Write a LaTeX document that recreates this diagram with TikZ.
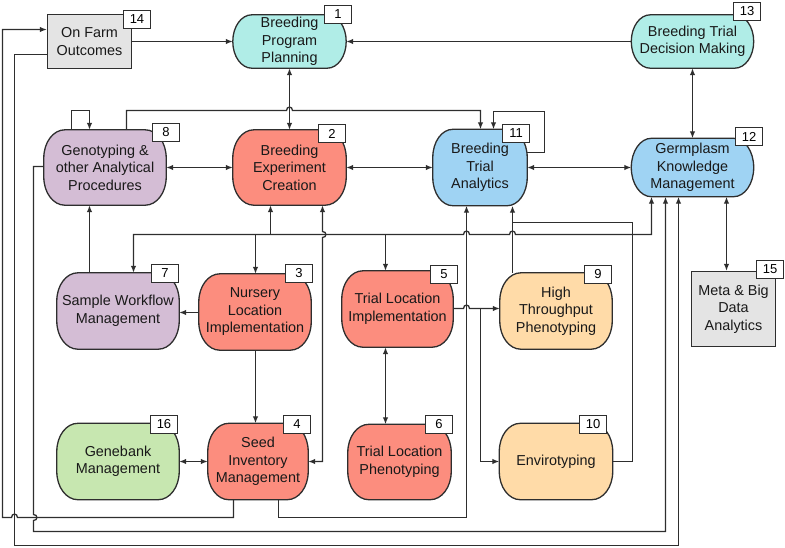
\documentclass[tikz,border=0pt]{standalone}
\usepackage{fontspec}
\setmainfont{Liberation Sans}
\usetikzlibrary{arrows.meta,calc,backgrounds}
\definecolor{lc}{HTML}{2E2E2E}
\definecolor{cTeal}{HTML}{B0EDE7}
\definecolor{cSalmon}{HTML}{FC8D7E}
\definecolor{cLilac}{HTML}{D4BDD5}
\definecolor{cBlue}{HTML}{9FD3F3}
\definecolor{cPeach}{HTML}{FFDBA8}
\definecolor{cGreen}{HTML}{C7E7B0}
\definecolor{cGray}{HTML}{E4E4E4}
\tikzset{
  procn/.style={inner sep=0pt, align=center, font=\fontsize{14.4}{17.5}\selectfont, text=black!90},
  sqbox/.style={procn, draw=lc, line width=1.3pt, fill=cGray},
  numbox/.style={draw=lc, line width=1.3pt, fill=white, minimum width=27pt, minimum height=18pt, inner sep=0pt, font=\fontsize{13}{13}\selectfont},
  conn/.style={draw=lc, line width=1.3pt},
  oneway/.style={-{Latex[length=7pt,width=5.5pt]}},
  twoway/.style={{Latex[length=7pt,width=5.5pt]}-{Latex[length=7pt,width=5.5pt]}},
}
\newcommand\rshape[4]{%
  \pgfmathsetmacro\rsA{0.448*#3}\pgfmathsetmacro\rsB{0.448*#4}%
  \path[draw=lc, line width=1.3pt, fill=#2]
   ($(#1.north west)+(#3,0)$) -- ($(#1.north east)+(-#3,0)$)
   .. controls ($(#1.north east)+(-\rsA,0)$) and ($(#1.north east)+(0,\rsB)$) .. ($(#1.north east)+(0,#4)$)
   -- ($(#1.south east)+(0,-#4)$)
   .. controls ($(#1.south east)+(0,-\rsB)$) and ($(#1.south east)+(-\rsA,0)$) .. ($(#1.south east)+(-#3,0)$)
   -- ($(#1.south west)+(#3,0)$)
   .. controls ($(#1.south west)+(\rsA,0)$) and ($(#1.south west)+(0,-\rsB)$) .. ($(#1.south west)+(0,-#4)$)
   -- ($(#1.north west)+(0,#4)$)
   .. controls ($(#1.north west)+(0,\rsB)$) and ($(#1.north west)+(\rsA,0)$) .. ($(#1.north west)+(#3,0)$) -- cycle;
}
\begin{document}
\begin{tikzpicture}[x=1pt,y=-1pt]
\useasboundingbox (0,0) rectangle (785,547);
% column / row helper coordinates (lines sit on pixel centres)
\foreach \c in {2,14,33,71,89,126,133,233,255,270,278,322,385,466,480,493,512,544,632,651,665,678,726}
  {\coordinate (x\c) at (\c+0.5,0);}
\foreach \r in {29,54,110,111,152,166,222,234,308,312,461,517,531,545}
  {\coordinate (y\r) at (0,\r+0.5);}

% nodes
\node[sqbox, minimum width=84pt, minimum height=54pt] (n14) at (89.5,41.5) {On Farm\\Outcomes};
\node[procn, minimum width=113pt, minimum height=53pt] (n1) at (289.5,41.5) {Breeding\\Program\\Planning};
\node[procn, minimum width=122pt, minimum height=53pt] (n13) at (692.5,41.5) {Breeding Trial\\Decision Making};
\node[procn, minimum width=122pt, minimum height=75pt] (n8) at (105,167.5) {Genotyping \&\\other Analytical\\Procedures};
\node[procn, minimum width=113pt, minimum height=75pt] (n2) at (289.5,167.5) {Breeding\\Experiment\\Creation};
\node[procn, minimum width=94pt, minimum height=76pt] (n11) at (480,167.5) {Breeding\\Trial\\Analytics};
\node[procn, minimum width=122pt, minimum height=58pt] (n12) at (692.5,167.5) {Germplasm\\Knowledge\\Management};
\node[procn, minimum width=122pt, minimum height=76pt] (n7) at (118,311) {Sample Workflow\\Management};
\node[procn, minimum width=112pt, minimum height=76pt] (n3) at (255,312) {Nursery\\Location\\Implementation};
\node[procn, minimum width=111pt, minimum height=76pt] (n5) at (397.5,309) {Trial Location\\Implementation};
\node[procn, minimum width=112pt, minimum height=76pt] (n9) at (556,311) {High\\Throughput\\Phenotyping};
\node[sqbox, minimum width=84pt, minimum height=75pt] (n15) at (733.5,309) {Meta \& Big\\Data\\Analytics};
\node[procn, minimum width=122pt, minimum height=76pt] (n16) at (118,461.5) {Genebank\\Management};
\node[procn, minimum width=100pt, minimum height=76pt] (n4) at (258,461.5) {Seed\\Inventory\\Management};
\node[procn, minimum width=103pt, minimum height=75pt] (n6) at (399.5,462) {Trial Location\\Phenotyping};
\node[procn, minimum width=113pt, minimum height=76pt] (n10) at (556,461.5) {Envirotyping};

\begin{pgfonlayer}{background}
  \rshape{n1}{cTeal}{19}{26.5}
  \rshape{n13}{cTeal}{19}{26.5}
  \rshape{n8}{cLilac}{21}{28}
  \rshape{n2}{cSalmon}{21}{28}
  \rshape{n11}{cBlue}{20}{28}
  \rshape{n12}{cBlue}{20}{29}
  \rshape{n7}{cLilac}{21}{28}
  \rshape{n3}{cSalmon}{21}{28}
  \rshape{n5}{cSalmon}{21}{28}
  \rshape{n9}{cPeach}{21}{28}
  \rshape{n16}{cGreen}{21}{28}
  \rshape{n4}{cSalmon}{21}{28}
  \rshape{n6}{cSalmon}{21}{28}
  \rshape{n10}{cPeach}{21}{28}
\end{pgfonlayer}

% connectors
\draw[conn,oneway] (n14.east) -- (n1.west);
\draw[conn,oneway] (n13.west) -- (n1.east);
\draw[conn,twoway] (n1.south) -- (n2.north);
\draw[conn,twoway] (n13.south) -- (n12.north);
\draw[conn,twoway] (n8.east) -- (n2.west);
\draw[conn,twoway] (n2.east) -- (n11.west);
\draw[conn,twoway] (n11.east) -- (n12.west);
\draw[conn,twoway] (n12.south -| x726) -- (n15.north -| x726);
% self loops
\draw[conn,oneway] (n8.north -| x71) |- (x89 |- y110) -- (n8.north -| x89);
\draw[conn,oneway] (n11.east |- y152) -| (x544 |- y111) -| (n11.north -| x493);
% 8 -> 11 with hop over 1-2
\draw[conn,oneway] (n8.north -| x126) |- (286.5,110.5) .. controls +(0,-4.5) and +(0,-4.5) .. (292.5,110.5) -| (n11.north -| x480);
% bus
\draw[conn,twoway] (n7.north -| x133) |- (463.5,234.5) .. controls +(0,-4.5) and +(0,-4.5) .. (469.5,234.5) -- (509.5,234.5) .. controls +(0,-4.5) and +(0,-4.5) .. (515.5,234.5) -| (n12.south -| x651);
\draw[conn,oneway] (x270 |- y234) -- (n2.south -| x270);
\draw[conn,oneway] (x255 |- y234) -- (n3.north -| x255);
\draw[conn,oneway] (x385 |- y234) -- (n5.north -| x385);
% 2 <-> 4
\draw[conn,twoway] (n2.south -| x322) -- (322.5,231.5) .. controls +(4.5,0) and +(4.5,0) .. (322.5,237.5) |- (n4.east |- y461);
% middle
\draw[conn,oneway] (n3.west |- y312) -- (n7.east |- y312);
\draw[conn,oneway] (n3.south -| x255) -- (n4.north -| x255);
\draw[conn,oneway] (n7.north -| x89) -- (n8.south -| x89);
\draw[conn,twoway] (n16.east) -- (n4.west);
\draw[conn,twoway] (n5.south -| x385) -- (n6.north -| x385);
\coordinate (j5) at (480.5,308.5);
\draw[conn,oneway] (n5.east |- y308) -- (463.5,308.5) .. controls +(0,-4.5) and +(0,-4.5) .. (469.5,308.5) -- (n9.west |- y308);
\draw[conn,oneway] (j5) |- (n10.west |- y461);
\draw[conn,oneway] (n9.north -| x512) -- (n11.south -| x512);
\draw[conn] (n10.east |- y461) -| (x632 |- y222) -- (x512 |- y222);
% 4 -> 11
\draw[conn,oneway] (n4.south -| x278) |- (x466 |- y517) -- (n11.south -| x466);
% 4 -> 14
\draw[conn,oneway] (n4.south -| x233) |- (17.5,517.5) .. controls +(0,-4.5) and +(0,-4.5) .. (11.5,517.5) -| (x2 |- y29) -- (n14.west |- y29);
% 8 -> 12
\draw[conn,oneway] (n8.west |- y166) -| (33.5,514.5) .. controls +(4.5,0) and +(4.5,0) .. (33.5,520.5) |- (x665 |- y531) -- (n12.south -| x665);
% 14 -> 12
\draw[conn,oneway] (n14.west |- y54) -| (x14 |- y545) -| (n12.south -| x678);

% number boxes
\node[numbox] (l14) at (137,19.5) {14};
\node[numbox] (l1) at (338,14.5) {1};
\node[numbox] (l13) at (747,11.5) {13};
\node[numbox] (l8) at (166,132.5) {8};
\node[numbox] (l2) at (332,133.5) {2};
\node[numbox] (l11) at (516,133.5) {11};
\node[numbox] (l12) at (749,136.5) {12};
\node[numbox] (l7) at (165,273.5) {7};
\node[numbox] (l3) at (299,273.5) {3};
\node[numbox] (l5) at (444,274.5) {5};
\node[numbox] (l9) at (598,274.5) {9};
\node[numbox] (l15) at (770,269.5) {15};
\node[numbox] (l16) at (164,424.5) {16};
\node[numbox] (l4) at (297,424.5) {4};
\node[numbox] (l6) at (439,424.5) {6};
\node[numbox] (l10) at (593,424.5) {10};
\end{tikzpicture}
\end{document}
